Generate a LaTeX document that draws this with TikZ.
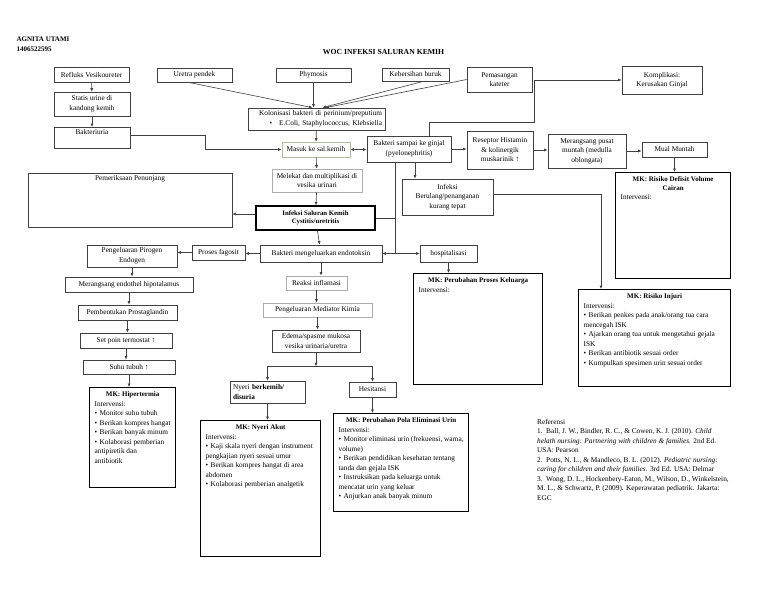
\documentclass[tikz,border=0pt]{standalone}
\usepackage{fontspec}
\setmainfont{Liberation Serif}
\usetikzlibrary{positioning,calc,arrows.meta}

\definecolor{garis}{gray}{0.25}
\definecolor{garismuda}{gray}{0.68}
\definecolor{garishijau}{RGB}{178,190,160}

\newcommand{\fnt}{\fontsize{7.3}{9.5}\selectfont}
\newcommand{\mkfnt}{\fontsize{7}{8.6}\selectfont\bfseries}
\newcommand{\iskfnt}{\fontsize{6.8}{8.4}\selectfont\bfseries}
\newcommand{\tb}[3]{\parbox[t][#2][t]{#1}{\centering #3}}
\newcommand{\bul}[1]{\hangindent=5pt\hangafter=1\noindent\hbox to 5pt{\textbullet\hss}#1\par}
\newcommand{\mkisi}[4]{\parbox[t][#2][t]{#1}{\raggedright{\centering\mkfnt #3\par}#4}}
\newcommand{\refi}[2]{\hangindent=9pt\hangafter=1\noindent\hbox to 9pt{#1\hss}#2\par}

\tikzset{
  box/.style={draw=garis, line width=0.7pt, align=center, inner sep=2pt, font=\fnt},
  mk/.style={draw=black, line width=1.3pt, anchor=north west, inner xsep=5pt, inner ysep=4pt, font=\fnt},
  arr/.style={draw=garis, line width=0.6pt, -{Latex[length=3.5pt,width=3pt]}},
  arr2/.style={draw=garis, line width=0.6pt, {Latex[length=3.5pt,width=3pt]}-{Latex[length=3.5pt,width=3pt]}},
  ln/.style={draw=garis, line width=0.6pt},
}

\begin{document}
\begin{tikzpicture}[x=1pt, y=-1pt]
\useasboundingbox (0,0) rectangle (768,594);

% judul
\node[anchor=west, font=\fontsize{7}{8}\selectfont\bfseries] (nama) at (13,39.5) {AGNITA UTAMI};
\node[anchor=west, font=\fontsize{7}{8}\selectfont\bfseries] (npm) at (13,49) {1406522595};
\node[font=\fontsize{7.7}{9}\selectfont\bfseries] (judul) at (383.5,52) {WOC INFEKSI SALURAN KEMIH};

% baris atas
\node[box, minimum width=75, minimum height=15] (refluks) at (91.5,74.5) {Refluks Vesikoureter};
\node[box, minimum width=76, minimum height=24] (statis) at (92,104) {Statis urine di\\kandung kemih};
\node[box, anchor=north] (bakteriuria) at (92,127) {\tb{72pt}{17pt}{Bakteriuria}};
\node[box, minimum width=75, minimum height=14] (uretra) at (194.5,75) {Uretra pendek};
\node[box, minimum width=75, minimum height=14] (phymosis) at (313.5,75) {Phymosis};
\node[box, minimum width=67, minimum height=13] (kebersihan) at (415.5,74.5) {Kebersihan buruk};
\node[box, minimum width=65, minimum height=25] (kateter) at (499.5,79.5) {Pemasangan\\kateter};
\node[box, minimum width=80, minimum height=28] (komplikasi) at (662,80) {Komplikasi:\\Kerusakan Ginjal};

% jalur tengah
\node[box, minimum width=137, minimum height=22, text width=131, align=right] (kolonisasi) at (316.5,119)
  {Kolonisasi bakteri di perinium/preputium\\\textbullet\hspace{7pt}E.Coli, Staphylococcus, Klebsiella};
\node[box, draw=garishijau, minimum width=68, minimum height=15] (masuk) at (316,149.5) {Masuk ke sal.kemih};
\node[box, draw=garismuda, minimum width=90, minimum height=23] (melekat) at (317,180.5) {Melekat dan multiplikasi di\\vesika urinari};
\node[box, draw=black, line width=1.1pt, minimum width=119, minimum height=24, font=\iskfnt] (isk) at (315.5,218) {Infeksi Saluran Kemih\\Cystitis/uretritis};
\node[box, anchor=north] (pemeriksaan) at (130,173) {\tb{200pt}{50pt}{Pemeriksaan Penunjang}};
\node[box, minimum width=122, minimum height=17] (endotoksin) at (321,253.5) {Bakteri mengeluarkan endotoksin};
\node[box, minimum width=53, minimum height=15] (fagosit) at (218.5,252.5) {Proses fagosit};
\node[box, draw=garismuda, minimum width=61, minimum height=14] (inflamasi) at (316.5,283) {Reaksi inflamasi};
\node[box, draw=garismuda, minimum width=109, minimum height=14] (mediator) at (317.5,310) {Pengeluaran Mediator Kimia};
\node[box, minimum width=88, minimum height=22] (edema) at (316,341) {Edema/spasme mukosa\\vesika urinaria/uretra};
\node[box, minimum width=75, minimum height=22, text width=69, align=left] (nyeri) at (267.5,392) {Nyeri \textbf{berkemih/}\\\textbf{disuria}};
\node[box, minimum width=47, minimum height=15] (hesitansi) at (372.5,389.5) {Hesitansi};

% jalur ginjal
\node[box, minimum width=84, minimum height=26] (sampai) at (409,149) {Bakteri sampai ke ginjal\\(pyelonephritis)};
\node[box, minimum width=66, minimum height=38] (reseptor) at (500,150) {Reseptor Histamin\\\& kolinergik\\muskarinik ↑};
\node[box, minimum width=78, minimum height=34] (pusat) at (587,151) {Merangsang pusat\\muntah (medulla\\oblongata)};
\node[box, minimum width=65, minimum height=15] (mual) at (674.5,149.5) {Mual Muntah};
\node[box, minimum width=91, minimum height=36] (berulang) at (447.5,197) {Infeksi\\Berulang/penanganan\\kurang tepat};
\node[box, minimum width=57, minimum height=17] (hospital) at (448.5,253.5) {hospitalisasi};

% jalur demam
\node[box, minimum width=90, minimum height=22] (pirogen) at (132,256) {Pengeluaran Pirogen\\Endogen};
\node[box, minimum width=128, minimum height=15] (endothel) at (129,284.5) {Merangsang endothel hipotalamus};
\node[box, minimum width=99, minimum height=15] (prostag) at (127.5,312.5) {Pembentukan Prostaglandin};
\node[box, minimum width=92, minimum height=15] (setpoin) at (126,340.5) {Set poin termostat ↑};
\node[box, minimum width=92, minimum height=14] (suhu) at (129,367) {Suhu tubuh ↑};

% masalah keperawatan
\node[mk] (hipertermia) at (89,387) {\mkisi{76pt}{92pt}{MK: Hipertermia}{Intervensi:\par
  \bul{Monitor suhu tubuh}\bul{Berikan kompres hangat}\bul{Berikan banyak minum}
  \bul{Kolaborasi pemberian\\antipiretik dan\\antibiotik}}};
\node[mk] (nyeriakut) at (200,420) {\mkisi{110pt}{128pt}{MK: Nyeri Akut}{Intervensi:\par
  \bul{Kaji skala nyeri dengan instrument\\pengkajian nyeri sesuai umur}
  \bul{Berikan kompres hangat di area\\abdomen}\bul{Kolaborasi pemberian analgetik}}};
\node[mk] (pola) at (333,413) {\mkisi{125pt}{90pt}{MK: Perubahan Pola Eliminasi Urin}{Intervensi:\par
  \bul{Monitor eliminasi urin (frekuensi, warna,\\volume)}
  \bul{Berikan pendidikan kesehatan tentang\\tanda dan gejala ISK}
  \bul{Instruksikan pada keluarga untuk\\mencatat urin yang keluar}
  \bul{Anjurkan anak banyak minum}}};
\node[mk] (keluarga) at (413,273) {\mkisi{119pt}{103pt}{MK: Perubahan Proses Keluarga}{Intervensi:\par}};
\node[mk] (injuri) at (578,289) {\mkisi{142pt}{89pt}{MK: Risiko Injuri}{Intervensi:\par
  \bul{Berikan penkes pada anak/orang tua cara\\mencegah ISK}
  \bul{Ajarkan orang tua untuk mengetahui gejala\\ISK}
  \bul{Berikan antibiotik sesuai order}
  \bul{Kumpulkan spesimen urin sesuai order}}};
\node[mk] (defisit) at (615,172) {\mkisi{105pt}{98pt}{MK: Risiko Defisit Volume\\Cairan}{Intervensi:\par}};

% referensi
\node[anchor=north west, inner sep=0pt, font=\fnt] (referensi) at (537,419) {\parbox[t]{195pt}{\raggedright
  Referensi\par
  \refi{1.}{Ball, J. W., Bindler, R. C., \& Cowen, K. J. (2010). \textit{Child}\\\textit{helath nursing: Partnering with children \& families.} 2nd Ed.\\USA: Pearson}
  \refi{2.}{Potts, N. L., \& Mandleco, B. L. (2012). \textit{Pediatric nursing:}\\\textit{caring for children and their families.} 3rd Ed. USA: Delmar}
  \refi{3.}{Wong, D. L., Hockenbery-Eaton, M., Wilson, D., Winkelstein,\\M. L., \& Schwartz, P. (2009). Keperawatan pediatrik. Jakarta:\\EGC}}};

% panah
\draw[arr] (refluks) -- (statis);
\draw[arr] (statis) -- (bakteriuria);
\draw[arr] ($(bakteriuria.north east)+(0,8)$) -- ++(75,0) |- (masuk.west);
\draw[arr] ($(uretra.south)+(-6,0)$) -- ($(kolonisasi.north)+(-4,0)$);
\draw[arr] (phymosis.south) -- (phymosis.south |- kolonisasi.north);
\draw[arr] ($(kebersihan.south)+(8,0)$) -- ($(kolonisasi.north)+(6,0)$);
\draw[arr] (kateter.west) -- ($(kolonisasi.north)+(9,0)$);
\draw[arr] (kolonisasi) -- (masuk);
\draw[arr2] (masuk.east) -- (masuk.east -| sampai.west);
\draw[arr] (masuk) -- (melekat);
\draw[arr] (melekat) -- (isk);
\coordinate (iw) at ($(isk.west)+(0,-4)$);
\draw[arr] (iw) -- (iw -| pemeriksaan.east);
\draw[arr] (isk) -- (endotoksin);

% ginjal
\draw[arr] ($(sampai.north)+(20,0)$) -- ++(0,-13) -- ++(105,0) |- (komplikasi.west);
\draw[arr] (sampai.east) -- (sampai.east -| reseptor.west);
\draw[arr] (reseptor.east) -- (reseptor.east -| pusat.west);
\draw[arr] (pusat.east) -- (pusat.east -| mual.west);
\draw[arr] (mual.south) -- (mual.south |- defisit.north);
\coordinate (sd) at ($(sampai.south)+(6,0)$);
\draw[arr] (sd) -- (sd |- berulang.north);
\coordinate (cinj) at ($(injuri.north west)+(23,0)$);
\draw[arr] ($(berulang.east)+(0,-3)$) -| (cinj);
\coordinate (sv) at ($(sampai.south)+(-14,0)$);
\draw[ln] (sv) |- (isk.east);
\draw[arr] (sv) |- (hospital.west);
\draw[arr] (sv |- hospital.west) -- (endotoksin.east);
\draw[arr] (hospital.south) -- (hospital.south |- keluarga.north);

% demam
\draw[arr] (endotoksin.west) -- (endotoksin.west -| fagosit.east);
\draw[arr] (fagosit.west) -- (fagosit.west -| pirogen.east);
\foreach \a/\b in {pirogen/endothel, endothel/prostag, prostag/setpoin, setpoin/suhu, suhu/hipertermia}
  \draw[arr] (\a.south) -- (\a.south |- \b.north);

% inflamasi
\foreach \a/\b in {endotoksin/inflamasi, inflamasi/mediator, mediator/edema}
  \draw[arr] (\a.south) -- (\a.south |- \b.north);
\coordinate (split) at ($(edema.south)+(0,14)$);
\draw[arr] (edema.south) -- (split);
\draw[ln] (split -| nyeri.north) -- (split -| hesitansi.north);
\draw[arr] (split -| nyeri.north) -- (nyeri.north);
\draw[arr] (split -| hesitansi.north) -- (hesitansi.north);
\draw[arr] (nyeri.south) -- (nyeri.south |- nyeriakut.north);
\draw[arr] (hesitansi.south) -- (hesitansi.south |- pola.north);
\end{tikzpicture}
\end{document}
